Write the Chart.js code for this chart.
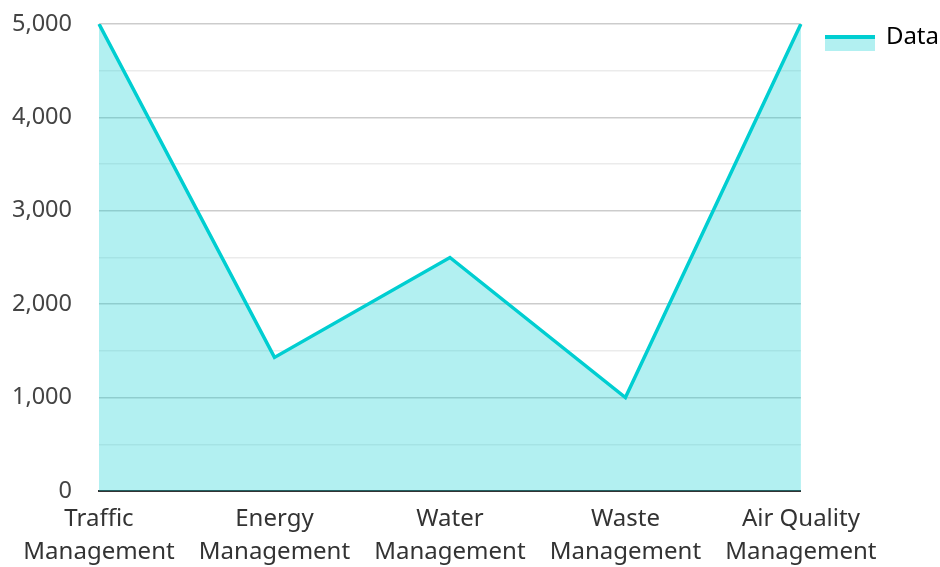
<!DOCTYPE html>
<html>
<head>
<meta charset="utf-8">
<script src="https://cdn.jsdelivr.net/npm/chart.js@4.4.0/dist/chart.umd.min.js"></script>
<style>
  html, body { margin: 0; padding: 0; background: #ffffff; }
  #wrap { width: 940px; height: 567px; position: relative; }
</style>
</head>
<body>
<div id="wrap"><canvas id="chart"></canvas></div>
<script>
// Smart-city program areas and their values
const categories = [
  ["Traffic", "Management"],
  ["Energy", "Management"],
  ["Water", "Management"],
  ["Waste", "Management"],
  ["Air Quality", "Management"]
];
const seriesName = "Data";
const seriesValues = [5000, 1430, 2500, 1000, 5000];
const yTickValues = [0, 1000, 2000, 3000, 4000, 5000];

const lineColor = "#00CED1";
const fillColor = "rgba(0, 206, 209, 0.3)";

// Legend swatch for an area series: line across the middle, fill below it
function makeSwatch() {
  const c = document.createElement("canvas");
  c.width = 50; c.height = 28;
  const g = c.getContext("2d");
  g.fillStyle = fillColor;
  g.fillRect(0, 14, 50, 14);
  g.fillStyle = lineColor;
  g.fillRect(0, 12, 50, 4);
  return c;
}
const swatch = makeSwatch();

Chart.defaults.font.family = "'Noto Sans', sans-serif";
Chart.defaults.color = "#333333";

new Chart(document.getElementById("chart"), {
  type: "line",
  data: {
    labels: categories,
    datasets: [{
      label: seriesName,
      data: seriesValues,
      borderColor: lineColor,
      backgroundColor: fillColor,
      borderWidth: 3.5,
      fill: "origin",
      tension: 0,
      pointRadius: 0,
      pointHoverRadius: 0
    }]
  },
  options: {
    responsive: true,
    maintainAspectRatio: false,
    animation: false,
    layout: { padding: { top: 0, left: 12, right: -9, bottom: 0 } },
    plugins: {
      tooltip: { enabled: false },
      legend: {
        position: "right",
        align: "start",
        labels: {
          usePointStyle: true,
          pointStyleWidth: 48,
          boxHeight: 24,
          font: { size: 24 },
          color: "#333333",
          padding: 25,
          generateLabels: (chart) => chart.data.datasets.map((ds, i) => ({
            text: ds.label,
            pointStyle: swatch,
            fillStyle: fillColor,
            strokeStyle: lineColor,
            lineWidth: 0,
            hidden: false,
            datasetIndex: i
          }))
        }
      }
    },
    scales: {
      x: {
        offset: false,
        z: 1,
        afterFit: (scale) => { scale.height = 76; },
        grid: { display: false, drawTicks: false },
        border: { display: true, color: "#333333", width: 2 },
        ticks: {
          font: { size: 24, lineHeight: 1.4 },
          color: "#333333",
          padding: 11,
          maxRotation: 0,
          autoSkip: false
        }
      },
      y: {
        min: 0,
        max: 5000,
        afterFit: (scale) => { scale.width = 87; scale.paddingTop = 24; },
        grid: {
          drawTicks: false,
          color: (ctx) => (ctx.tick && yTickValues.includes(ctx.tick.value))
            ? "rgba(0, 0, 0, 0.2)" : "rgba(0, 0, 0, 0.08)",
          lineWidth: 1.5
        },
        border: { display: false },
        ticks: {
          stepSize: 500,
          font: { size: 23.5 },
          color: "#444444",
          padding: 27,
          callback: (v) => yTickValues.includes(v) ? v.toLocaleString("en-US") : ""
        }
      }
    }
  }
});
</script>
</body>
</html>
